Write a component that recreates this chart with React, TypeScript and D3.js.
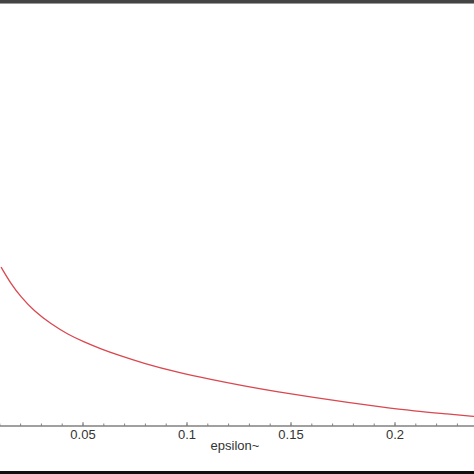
import React from "react";
import * as d3 from "d3";

const epsilonValues = [0.0106, 0.0154, 0.0202, 0.0264, 0.0346, 0.0428, 0.0505, 0.0587, 0.0668, 0.0793, 0.0957, 0.1115, 0.1274, 0.1438, 0.1611, 0.1774, 0.1933, 0.2091, 0.2255, 0.2385];
const curveValues = [1.59, 1.42, 1.29, 1.15, 1.02, 0.915, 0.84, 0.77, 0.71, 0.625, 0.535, 0.465, 0.40, 0.34, 0.285, 0.235, 0.19, 0.15, 0.12, 0.095];
const majorTicks = [0.05, 0.1, 0.15, 0.2];
const minorTicks = d3.range(1, 24).map((i) => i / 100);
const xLabel = "epsilon~";

const W = 474;
const H = 474;

export default function App() {
  const x = d3.scaleLinear().domain([0, 0.05]).range([-21, 83]);
  const y = d3.scaleLinear().domain([0, 4.26]).range([426, 0]);
  const data = epsilonValues.map((e, i) => [e, curveValues[i]] as [number, number]);
  const line = d3
    .line<[number, number]>()
    .x((d) => x(d[0]))
    .y((d) => y(d[1]))
    .curve(d3.curveBasis);
  const axisY = y(0);
  return (
    <svg
      width={W}
      height={H}
      style={{ position: "fixed", left: 0, top: 0, background: "#fff" }}
      fontFamily="'Liberation Sans', Arial, sans-serif"
    >
      <rect x={0} y={0} width={W} height={H} fill="#fff" />
      <rect x={0} y={0} width={W} height={3} fill="#444" />
      <line x1={0} x2={W} y1={3.5} y2={3.5} stroke="#999" strokeWidth={1} />
      <rect x={0} y={471} width={W} height={3} fill="#111" />
      <path d={line(data) || ""} fill="none" stroke="#d9474f" strokeWidth={1.3} />
      <line x1={0} x2={W} y1={axisY} y2={axisY} stroke="#808080" strokeWidth={1.6} />
      {minorTicks.map((t) => (
        <line key={"m" + t} x1={x(t)} x2={x(t)} y1={axisY} y2={axisY - 2.5} stroke="#808080" strokeWidth={1} />
      ))}
      {majorTicks.map((t) => (
        <g key={"M" + t}>
          <line x1={x(t)} x2={x(t)} y1={axisY} y2={axisY - 4} stroke="#808080" strokeWidth={1} />
          <text x={x(t)} y={439} textAnchor="middle" fontSize={13} fill="#333">
            {String(t)}
          </text>
        </g>
      ))}
      <text x={235} y={450} textAnchor="middle" fontSize={13} fill="#333">
        {xLabel}
      </text>
    </svg>
  );
}
